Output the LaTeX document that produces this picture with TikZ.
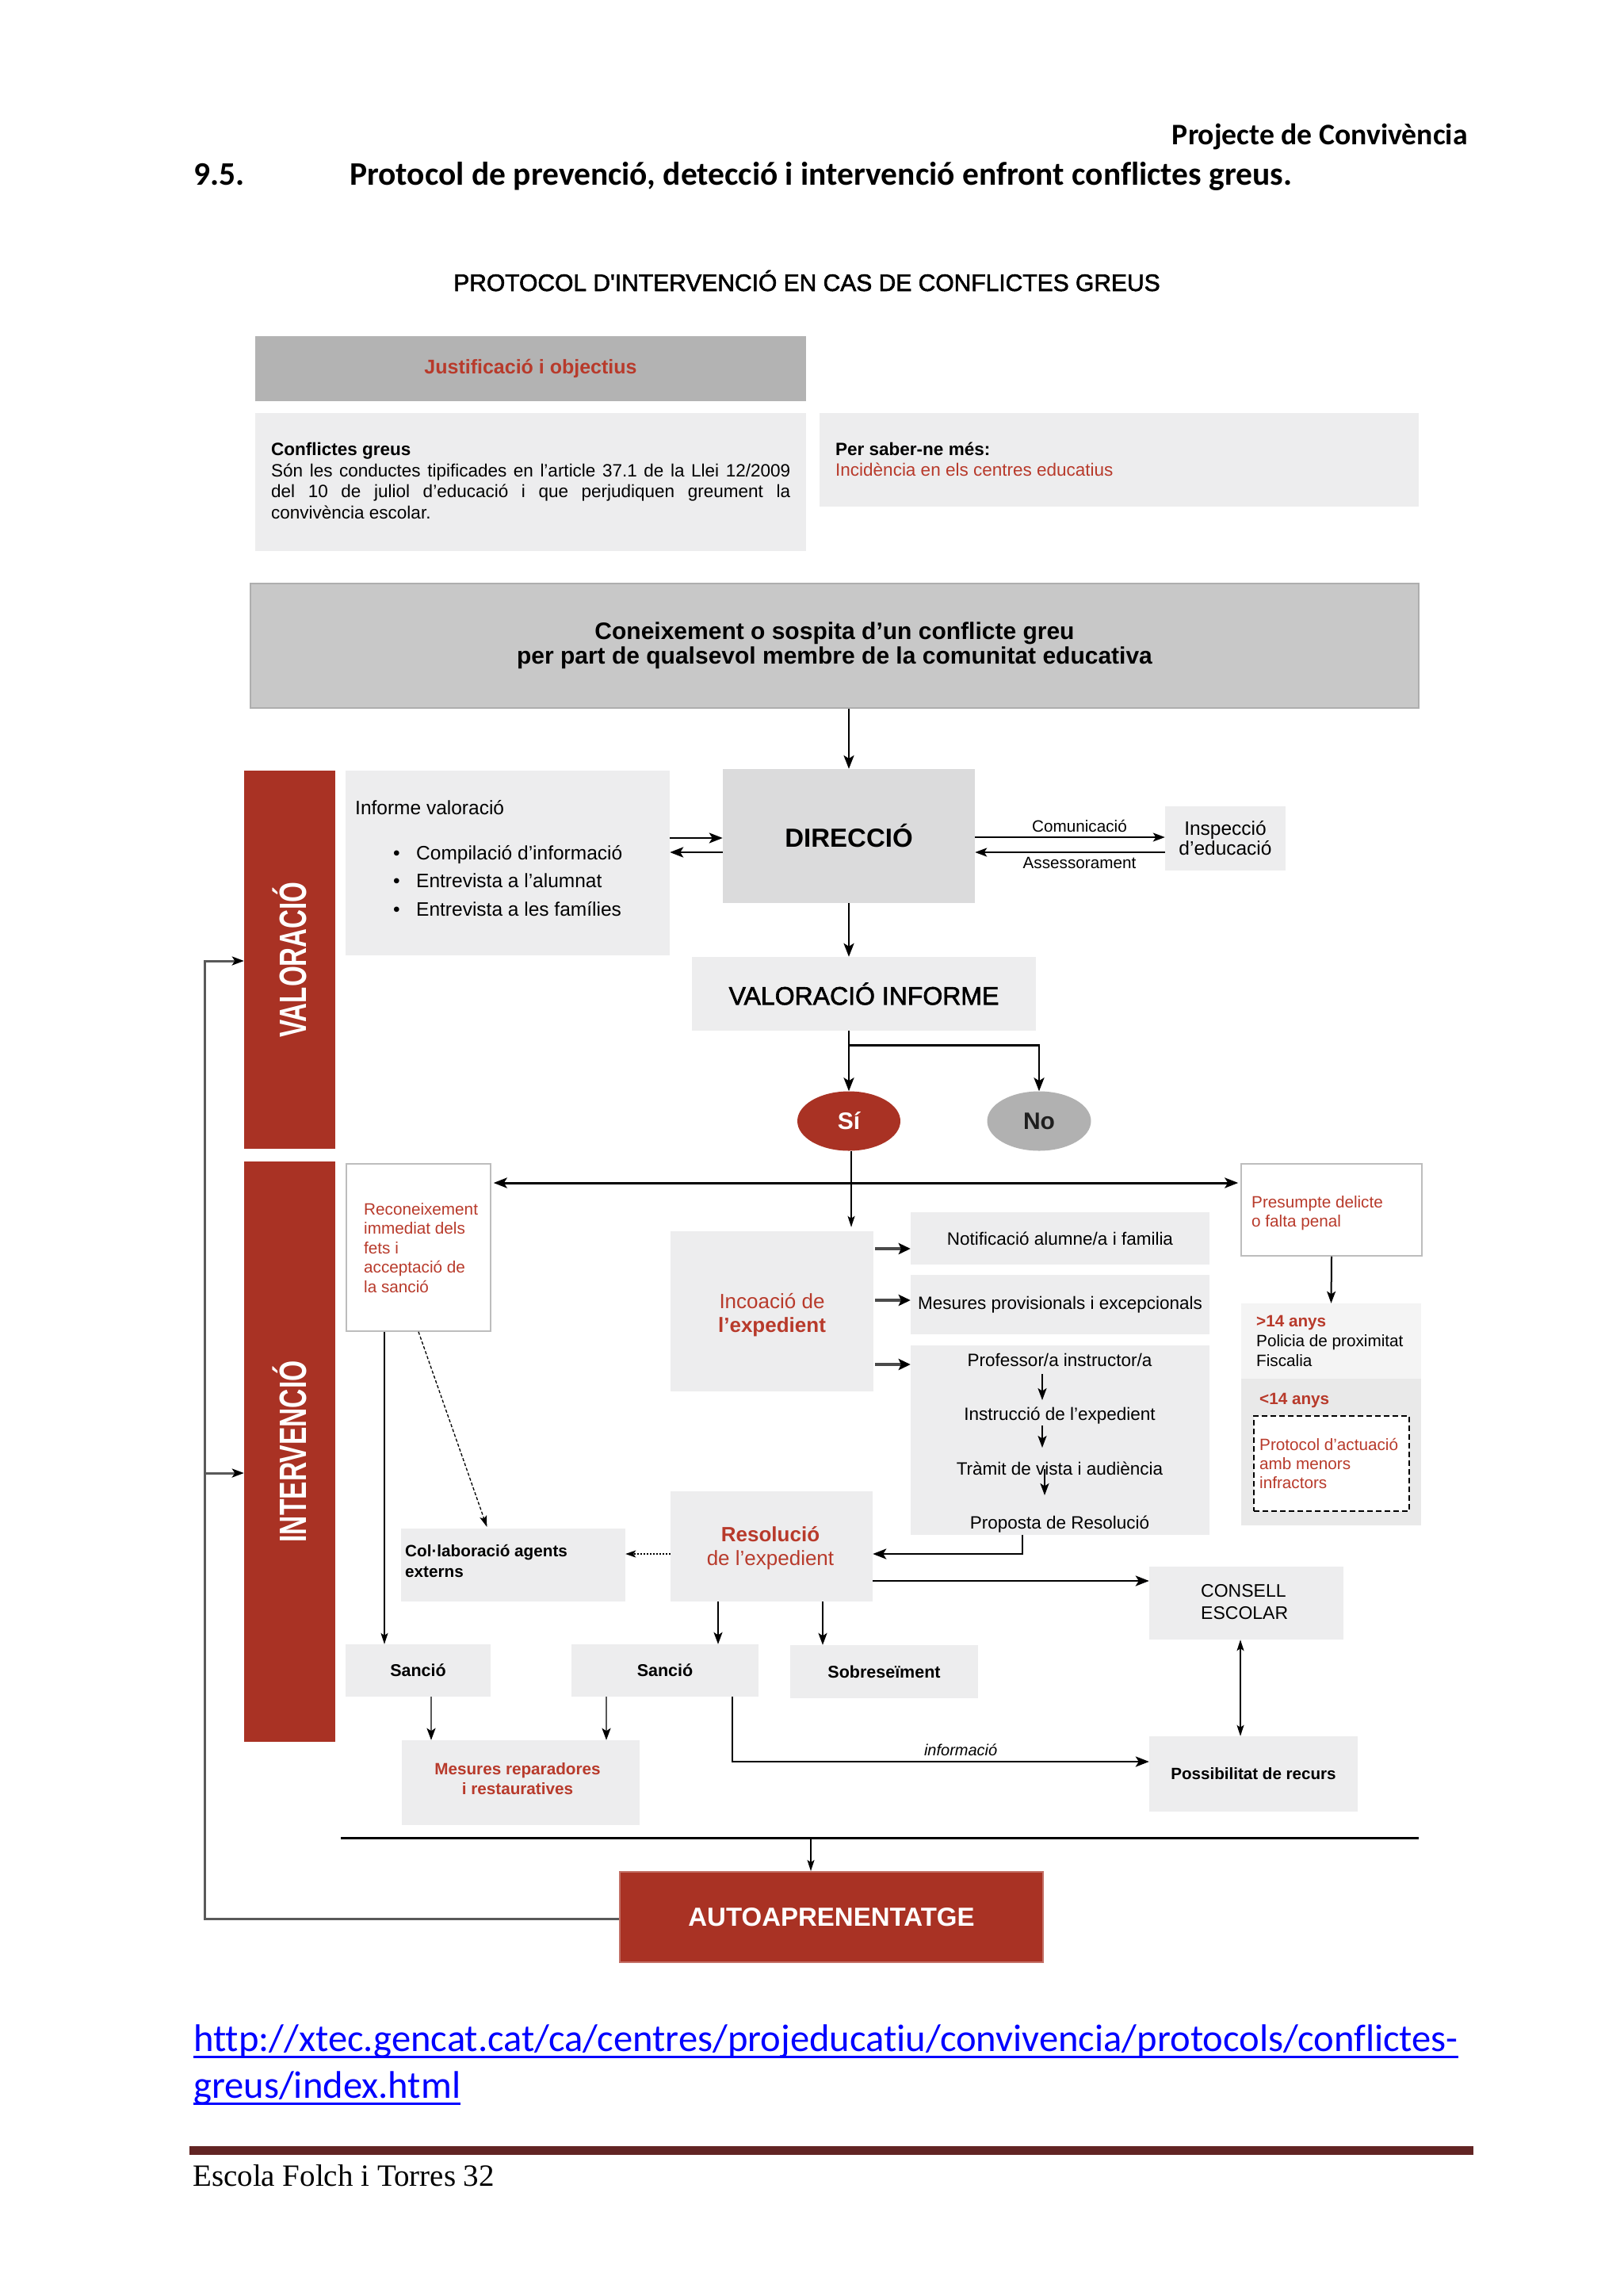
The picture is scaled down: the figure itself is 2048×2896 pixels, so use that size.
\documentclass[tikz,border=0pt]{standalone}
\usepackage{fontspec}
\usepackage{graphicx}
\setmainfont{Liberation Sans}
\newfontfamily\calib[Ligatures=NoCommon]{Carlito}
\newfontfamily\serift{Liberation Serif}
\newfontfamily\medft[FakeBold=2]{Liberation Sans}
\usetikzlibrary{arrows.meta,shapes.geometric}
\definecolor{redband}{HTML}{A93224}
\definecolor{redtxt}{HTML}{B83A2B}
\definecolor{boxgray}{HTML}{EDEDEE}
\definecolor{justgray}{HTML}{B3B3B3}
\definecolor{congray}{HTML}{C8C8C8}
\definecolor{congrayb}{HTML}{AEAEAE}
\definecolor{dirgray}{HTML}{DBDBDC}
\definecolor{nogray}{HTML}{B1B1B1}
\definecolor{gtgray}{HTML}{F4F4F4}
\definecolor{ltgray}{HTML}{E9E9E9}
\definecolor{bordgray}{HTML}{BDBDBD}
\definecolor{linkblue}{HTML}{0000FF}
\definecolor{rulebrown}{HTML}{622423}
\definecolor{shaft}{HTML}{4A4A4A}
\newcommand\fsz[2]{\fontsize{#1}{#2}\selectfont}
\begin{document}
\begin{tikzpicture}[x=1pt,y=-1pt,
  box/.style={fill=boxgray, inner sep=0pt, align=center},
  txt/.style={inner sep=0pt, align=left},
  thk/.style={line width=2.8pt, -{Stealth[length=17pt,width=13pt,inset=4pt]}},
  mid/.style={line width=2pt, -{Stealth[length=15pt,width=11pt,inset=3.5pt]}},
  thn/.style={line width=1.4pt, -{Stealth[length=14pt,width=9pt,inset=3pt]}},
  fat/.style={line width=4pt, draw=shaft, -{Stealth[length=15pt,width=14pt,inset=3pt,color=black]}},
  fbl/.style={line width=3pt, draw=black!65, -{Stealth[length=15pt,width=11pt,inset=3.5pt,color=black]}},
  small/.style={font=\fsz{20.7}{24.5}},
]
\useasboundingbox (0,0) rectangle (2048,2896);
\fill[white] (0,0) rectangle (2048,2896);

% ---------- page header ----------
\node[txt, anchor=base east, font=\calib\bfseries\fsz{37.7}{40}] (hdrR) at (1852,182) {Projecte de Convivència};
\node[txt, anchor=base west, font=\calib\bfseries\fsz{41.5}{44}] (secnum) at (244,233) {9.5.};
\node[txt, anchor=base west, font=\calib\bfseries\fsz{41.5}{44}] (sectitle) at (441,233) {Protocol de prevenció, detecció i intervenció enfront conflictes greus.};

% ---------- diagram title ----------
\node[txt, anchor=base, font=\medft\fsz{30}{34}] (title) at (1018,367) {PROTOCOL D'INTERVENCIÓ EN CAS DE CONFLICTES GREUS};

% ---------- top boxes ----------
\node[box, fill=justgray, minimum width=695pt, minimum height=82pt, text=redtxt, font=\bfseries\fsz{25}{30}] (justif) at (669.5,465) {Justificació i objectius};
\node[box, minimum width=695pt, minimum height=174pt] (confl) at (669.5,608) {};
\node[txt, anchor=base west, font=\bfseries\fsz{22.5}{26.5}] (conflT) at (342,574) {Conflictes greus};
\node[txt, anchor=base west, font=\fsz{22.5}{26.5}] (conflL1) at (342,601) {\makebox[655pt][s]{Són les conductes tipificades en l'article 37.1 de la Llei 12/2009}};
\node[txt, anchor=base west, font=\fsz{22.5}{26.5}] (conflL2) at (342,627) {\makebox[655pt][s]{del 10 de juliol d'educació i que perjudiquen greument la}};
\node[txt, anchor=base west, font=\fsz{22.5}{26.5}] (conflL3) at (342,654) {convivència escolar.};

\node[box, minimum width=756pt, minimum height=118pt] (persab) at (1412,580) {};
\node[txt, anchor=base west, font=\bfseries\fsz{22.5}{26.5}] (persabT) at (1054,574) {Per saber-ne més:};
\node[txt, anchor=base west, text=redtxt, font=\fsz{22.5}{26.5}] (persabL) at (1054,600) {Incidència en els centres educatius};

\node[box, fill=congray, draw=congrayb, line width=2pt, minimum width=1474pt, minimum height=157pt, font=\bfseries\fsz{30}{31}] (coneix) at (1053,814.5) {Coneixement o sospita d'un conflicte greu\\per part de qualsevol membre de la comunitat educativa};

% ---------- VALORACIO ----------
\node[fill=redband, minimum width=115pt, minimum height=477pt, inner sep=0pt] (bandV) at (365.5,1210.5) {};
\node[rotate=90, inner sep=0pt, text=white, font=\bfseries\fsz{48}{48}] (bandVt) at (365.5,1210.5) {\scalebox{0.69}[1]{VALORACIÓ}};

\node[box, minimum width=409pt, minimum height=233pt] (informe) at (640.5,1088.5) {};
\node[txt, anchor=base west, font=\fsz{24.5}{28}] (infT) at (448,1027) {Informe valoració};
\node[txt, anchor=base west, font=\fsz{24.5}{28}] (bul1) at (496,1084) {•};
\node[txt, anchor=base west, font=\fsz{24.5}{28}] (inf1) at (525,1084) {Compilació d’informació};
\node[txt, anchor=base west, font=\fsz{24.5}{28}] (bul2) at (496,1119) {•};
\node[txt, anchor=base west, font=\fsz{24.5}{28}] (inf2) at (525,1119) {Entrevista a l’alumnat};
\node[txt, anchor=base west, font=\fsz{24.5}{28}] (bul3) at (496,1155) {•};
\node[txt, anchor=base west, font=\fsz{24.5}{28}] (inf3) at (525,1155) {Entrevista a les famílies};

\node[box, fill=dirgray, minimum width=318pt, minimum height=169pt, font=\bfseries\fsz{33}{36}] (direccio) at (1071,1054.5) {DIRECCIÓ};
\node[box, minimum width=152pt, minimum height=81pt, font=\fsz{24.5}{25}] (inspec) at (1546,1057.5) {Inspecció\\d'educació};
\node[box, minimum width=434pt, minimum height=93pt, font=\medft\fsz{32}{34}] (valinf) at (1090,1253.5) {VALORACIÓ INFORME};

\node[ellipse, fill=redband, minimum width=130pt, minimum height=75pt, inner sep=0pt, text=white, font=\bfseries\fsz{30}{30}] (si) at (1071,1414) {Sí};
\node[ellipse, fill=nogray, minimum width=131pt, minimum height=75pt, inner sep=0pt, text=black!88, font=\bfseries\fsz{30}{30}] (no) at (1311,1414) {No};

% ---------- INTERVENCIO ----------
\node[fill=redband, minimum width=115pt, minimum height=732pt, inner sep=0pt] (bandI) at (365.5,1831) {};
\node[rotate=90, inner sep=0pt, text=white, font=\bfseries\fsz{48}{48}] (bandIt) at (365.5,1831) {\scalebox{0.7}[1]{INTERVENCIÓ}};

\node[fill=white, draw=bordgray, line width=1.5pt, minimum width=182pt, minimum height=211pt, inner sep=0pt] (recon) at (528,1573.5) {};
\node[txt, small, anchor=base west, text=redtxt] (rec1) at (459,1532) {Reconeixement};
\node[txt, small, anchor=base west, text=redtxt] (rec2) at (459,1556.5) {immediat dels};
\node[txt, small, anchor=base west, text=redtxt] (rec3) at (459,1581) {fets i};
\node[txt, small, anchor=base west, text=redtxt] (rec4) at (459,1605.5) {acceptació de};
\node[txt, small, anchor=base west, text=redtxt] (rec5) at (459,1630) {la sanció};

\node[fill=white, draw=bordgray, line width=1.5pt, minimum width=228pt, minimum height=116pt, inner sep=0pt] (presum) at (1680,1526) {};
\node[txt, small, anchor=base west, text=redtxt] (pre1) at (1579,1523) {Presumpte delicte};
\node[txt, small, anchor=base west, text=redtxt] (pre2) at (1579,1547) {o falta penal};

\node[box, fill=gtgray, minimum width=227pt, minimum height=95pt] (gt14) at (1679.5,1691.5) {};
\node[box, fill=ltgray, minimum width=227pt, minimum height=185pt] (lt14) at (1679.5,1831.5) {};
\node[txt, anchor=base west, text=redtxt, font=\bfseries\fsz{20.7}{24.5}] (gtT) at (1585,1673) {>14 anys};
\node[txt, small, anchor=base west] (gt1) at (1585,1698) {Policia de proximitat};
\node[txt, small, anchor=base west] (gt2) at (1585,1723) {Fiscalia};
\node[txt, anchor=base west, text=redtxt, font=\bfseries\fsz{20.7}{24.5}] (ltT) at (1589,1771) {<14 anys};
\node[fill=white, draw=black, dash pattern=on 7pt off 4pt, line width=1.5pt, minimum width=196pt, minimum height=120pt, inner sep=0pt] (dashb) at (1680,1846) {};
\node[txt, small, anchor=base west, text=redtxt] (lt1) at (1589,1829) {Protocol d'actuació};
\node[txt, small, anchor=base west, text=redtxt] (lt2) at (1589,1853) {amb menors};
\node[txt, small, anchor=base west, text=redtxt] (lt3) at (1589,1877.5) {infractors};

\node[box, minimum width=256pt, minimum height=202pt] (incoa) at (974,1654) {};
\node[txt, anchor=base, text=redtxt, font=\fsz{26}{30}] (incoa1) at (974,1650) {Incoació de};
\node[txt, anchor=base, text=redtxt, font=\bfseries\fsz{26}{30}] (incoa2) at (974,1680) {l'expedient};

\node[box, minimum width=377pt, minimum height=66pt, font=\fsz{22.5}{26}] (notif) at (1337.5,1562) {Notificació alumne/a i familia};
\node[box, minimum width=377pt, minimum height=75pt, font=\fsz{22.5}{26}] (mesprov) at (1337.5,1645.5) {Mesures provisionals i excepcionals};
\node[box, minimum width=377pt, minimum height=239pt] (prof) at (1337.5,1816.5) {};
\node[txt, anchor=base, font=\fsz{22.5}{26}] (p1) at (1337,1723) {Professor/a instructor/a};
\node[txt, anchor=base, font=\fsz{22.5}{26}] (p2) at (1337,1791) {Instrucció de l'expedient};
\node[txt, anchor=base, font=\fsz{22.5}{26}] (p3) at (1337,1860) {Tràmit de vista i audiència};
\node[txt, anchor=base, font=\fsz{22.5}{26}] (p4) at (1337,1928) {Proposta de Resolució};

\node[box, minimum width=255pt, minimum height=139pt] (resol) at (973.5,1950.5) {};
\node[txt, anchor=base, text=redtxt, font=\bfseries\fsz{26}{30}] (resol1) at (972,1944) {Resolució};
\node[txt, anchor=base, text=redtxt, font=\fsz{26}{30}] (resol2) at (972,1974) {de l'expedient};

\node[box, minimum width=283pt, minimum height=92pt] (collab) at (647.5,1974) {};
\node[txt, anchor=base west, font=\bfseries\fsz{20.7}{24.5}] (col1) at (511,1963) {Col·laboració agents};
\node[txt, anchor=base west, font=\bfseries\fsz{20.7}{24.5}] (col2) at (511,1989) {externs};

\node[box, minimum width=245pt, minimum height=92pt] (consell) at (1572.5,2022) {};
\node[txt, anchor=base west, font=\fsz{23}{28}] (cons1) at (1515,2014) {CONSELL};
\node[txt, anchor=base west, font=\fsz{23}{28}] (cons2) at (1515,2042) {ESCOLAR};

\node[box, minimum width=183pt, minimum height=66pt, font=\bfseries\fsz{21.5}{24}] (sanc1) at (527.5,2107) {Sanció};
\node[box, minimum width=236pt, minimum height=66pt, font=\bfseries\fsz{21.5}{24}] (sanc2) at (839,2107) {Sanció};
\node[box, minimum width=237pt, minimum height=67pt, font=\bfseries\fsz{21.5}{24}] (sobre) at (1115.5,2108.5) {Sobreseïment};

\node[box, minimum width=300pt, minimum height=107pt] (mesrep) at (657,2248.5) {};
\node[txt, anchor=base, text=redtxt, font=\bfseries\fsz{20.7}{24.5}] (mr1) at (653,2238) {Mesures reparadores};
\node[txt, anchor=base, text=redtxt, font=\bfseries\fsz{20.7}{24.5}] (mr2) at (653,2263) {i restauratives};

\node[box, minimum width=263pt, minimum height=95pt, font=\bfseries\fsz{20.6}{24}] (possib) at (1581.5,2237.5) {Possibilitat de recurs};

\node[fill=redband, draw=redband!70!white, line width=2pt, minimum width=534pt, minimum height=114pt, inner sep=0pt, text=white, font=\bfseries\fsz{33}{36}] (auto) at (1049,2418) {AUTOAPRENENTATGE};

% ---------- connectors ----------
\draw[thk] (coneix.south -| direccio.north) -- (direccio.north);
\draw[thk] ([yshift=31.5pt]informe.east) -- ([yshift=-2.5pt]direccio.west);
\draw[thk] ([yshift=-20.5pt]direccio.west) -- ([yshift=13.5pt]informe.east);
\draw[mid] ([yshift=-1.5pt]direccio.east) -- node[pos=0.55, above=5pt, inner sep=0pt, font=\fsz{20.7}{24}] {Comunicació} ([yshift=1.5pt]inspec.west);
\draw[mid] ([yshift=-17.5pt]inspec.west) -- node[pos=0.45, below=5pt, inner sep=0pt, font=\fsz{20.7}{24}] {Assessorament} ([yshift=-20.5pt]direccio.east);
\draw[thk] (direccio.south) -- (direccio.south |- valinf.north);
\draw[thk] (valinf.south -| si.north) -- (si.north);
\draw[thk] ([yshift=-18pt]valinf.south -| si.north) -| (no.north);
\draw[thn, shorten >=5pt] ([xshift=3pt]si.south) -- ([xshift=3pt]si.south |- incoa.north);
\draw[line width=3pt, {Stealth[length=17pt,width=13pt,inset=4pt]}-{Stealth[length=17pt,width=13pt,inset=4pt]}, shorten <=3pt, shorten >=3pt] ([yshift=81.5pt]recon.east) -- ([yshift=34pt]presum.west);
\draw[mid] (presum.south) -- (gt14.north);
\draw[fat, shorten <=2pt] ([yshift=79pt]incoa.east) -- ([yshift=-13pt]notif.west);
\draw[fat, shorten <=2pt] ([yshift=14pt]incoa.east) -- ([yshift=5.5pt]mesprov.west);
\draw[fat, shorten <=2pt] ([yshift=-67pt]incoa.east) -- ([yshift=95.5pt]prof.west);
\coordinate (ax) at (1315,0);
\coordinate (axb) at (1318,0);
\draw[mid] ([yshift=-10pt]p1.base -| ax) -- ([yshift=25pt]p2.base -| ax);
\draw[mid] ([yshift=-7pt]p2.base -| ax) -- ([yshift=34pt]p3.base -| ax);
\draw[mid] ([yshift=7pt]p3.base -| axb) -- ([yshift=42pt]p4.base -| axb);
\draw[thk] ([xshift=-47.5pt]prof.south) |- ([yshift=-9.5pt]resol.east);
\draw[line width=1.3pt, dash pattern=on 2pt off 2pt, -{Stealth[length=13pt,width=9pt,inset=3pt]}] ([yshift=-9.5pt]resol.west) -- ([yshift=14pt]collab.east);
\draw[line width=1.3pt, dash pattern=on 4pt off 2.5pt, -{Stealth[length=14pt,width=9pt,inset=3pt]}, shorten >=2pt] (recon.south) -- ([xshift=-32.5pt]collab.north);
\draw[thn] ([xshift=-43pt]recon.south) -- ([xshift=-43pt]recon.south |- sanc1.north);
\draw[thk] ([yshift=-43.5pt]resol.east) -- ([yshift=28pt]consell.west);
\draw[mid] ([xshift=-67.5pt]resol.south) -- ([xshift=-67.5pt]resol.south |- sanc2.north);
\draw[mid] ([xshift=64.5pt]resol.south) -- ([xshift=64.5pt]resol.south |- sobre.north);
\draw[mid, draw=black!65, -{Stealth[length=15pt,width=11pt,inset=3.5pt,color=black]}] ([xshift=16.5pt]sanc1.south) -- ([xshift=16.5pt]sanc1.south |- mesrep.north);
\draw[mid, draw=black!65, -{Stealth[length=15pt,width=11pt,inset=3.5pt,color=black]}] ([xshift=-74pt]sanc2.south) -- ([xshift=-74pt]sanc2.south |- mesrep.north);
\draw[thk, line width=2.6pt] ([xshift=85pt]sanc2.south) |- node[pos=0.774, above=6pt, inner sep=0pt, font=\itshape\fsz{20}{24}] {informació} ([yshift=15.5pt]possib.west);
\draw[thn, {Stealth[length=14pt,width=9pt,inset=3pt]}-{Stealth[length=14pt,width=9pt,inset=3pt]}] ([xshift=-7.5pt]consell.south) -- ([xshift=-16.5pt]possib.north);

\coordinate (sepL) at (430,2318);
\coordinate (sepR) at (1790,2318);
\coordinate (sepM) at (1023,2318);
\draw[line width=3pt] (sepL) -- (sepR);
\draw[thn] (sepM) -- (sepM |- auto.north);

\coordinate (fb) at (258,2420);
\coordinate (fbI) at (258,1858);
\draw[fbl] ([yshift=-2pt]auto.west) -- (fb) |- ([yshift=-1.5pt]bandV.west);
\draw[fbl] (fbI) -- (fbI -| bandI.west);

% ---------- link and footer ----------
\node[txt, anchor=base west, text=linkblue, font=\calib\fsz{48.6}{52}] (url1) at (244,2587) {http://xtec.gencat.cat/ca/centres/projeducatiu/convivencia/protocols/conflictes-};
\draw[linkblue, line width=3pt] ([yshift=-7pt]url1.base west) -- ([yshift=-7pt]url1.base east);
\node[txt, anchor=base west, text=linkblue, font=\calib\fsz{48.6}{52}] (url2) at (244,2646) {greus/index.html};
\draw[linkblue, line width=3pt] ([yshift=-7pt]url2.base west) -- ([yshift=-7pt]url2.base east);

\coordinate (ruleL) at (239,2707);
\coordinate (ruleR) at (1859,2718);
\fill[rulebrown] (ruleL) rectangle (ruleR);
\node[txt, anchor=base west, font=\serift\fsz{39}{42}] (foot) at (243,2757) {Escola Folch i Torres 32};
\end{tikzpicture}
\end{document}
